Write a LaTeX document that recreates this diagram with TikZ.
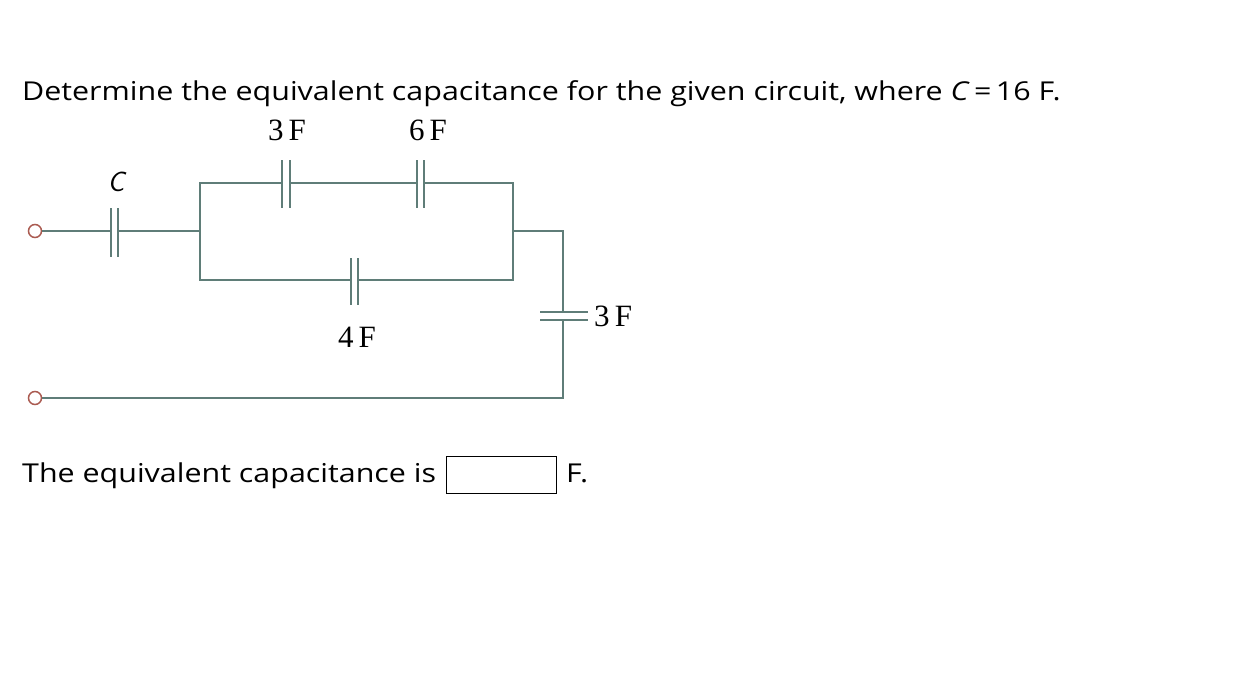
\documentclass[tikz,border=0pt]{standalone}
\usepackage{fontspec}
\setmainfont[FakeStretch=1.17]{Open Sans}
\newfontfamily\serifx{Liberation Serif}
\begin{document}
\begin{tikzpicture}[x=1pt,y=-1pt,
 wire/.style={draw={rgb,255:red,95;green,125;blue,120},line width=1.6pt},
 term/.style={circle,draw={rgb,255:red,170;green,90;blue,80},line width=1.5pt,inner sep=0pt,minimum size=13pt,fill=white},
 lab/.style={font=\serifx\fontsize{31}{31}\selectfont,inner sep=0pt},
 txt/.style={font=\fontsize{26}{26}\selectfont,inner sep=0pt,anchor=base west}]
\useasboundingbox (0,0) rectangle (1252,682);
\node[txt] (title) at (22,101) {Determine the equivalent capacitance for the given circuit, where \textit{C}\,=\,16 F.};
\node[txt] (ans) at (22,482) {The equivalent capacitance is};
\node[draw,line width=1pt,minimum width=110pt,minimum height=37pt,inner sep=0pt] (box) at (501,475) {};
\node[txt] (f) at (566,482) {F.};
\node[lab] at (287,130) {3\,F};
\node[lab] at (428,130) {6\,F};
\node[lab] at (357,337) {4\,F};
\node[lab,anchor=west] at (594,316) {3\,F};
\node[font=\sffamily\itshape\fontsize{28}{28}\selectfont,inner sep=0pt] at (116,182) {C};
\node[term] (t1) at (35,231) {};
\node[term] (t2) at (35,398) {};
% C
\draw[wire] (t1) -- (111,231) (118,231) -- (200,231);
\draw[wire] (111,208) -- (111,257) (118,208) -- (118,257);
% top branch
\draw[wire] (200,231) -- (200,183) -- (282,183) (290,183) -- (417,183) (424,183) -- (513,183) -- (513,280) -- (358,280) (351,280) -- (200,280) -- (200,231);
\draw[wire] (282,160) -- (282,208) (290,160) -- (290,208);
\draw[wire] (417,160) -- (417,208) (424,160) -- (424,208);
\draw[wire] (351,258) -- (351,305) (358,258) -- (358,305);
% right
\draw[wire] (513,231) -- (563,231) -- (563,312) (563,320) -- (563,398) -- (t2);
\draw[wire] (540,312) -- (588,312) (540,320) -- (588,320);
\end{tikzpicture}
\end{document}
